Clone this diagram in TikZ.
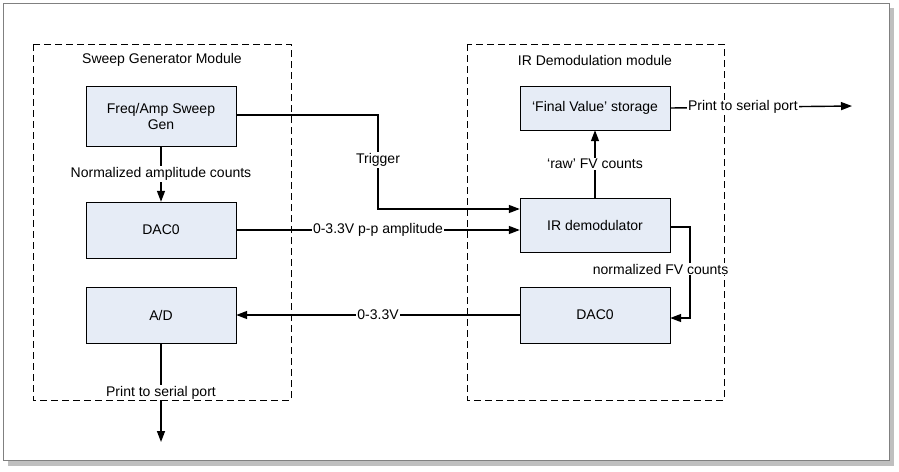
\documentclass[tikz,border=0pt]{standalone}
\usepackage{fontspec}
\setmainfont{Liberation Sans}
\usetikzlibrary{arrows.meta}
\definecolor{blockfill}{RGB}{230,236,246}
\begin{document}
\begin{tikzpicture}[x=1pt,y=-1pt,
        >={Triangle[length=11pt,width=8pt]},
        font=\fontsize{14}{16}\selectfont,
        block/.style={draw, fill=blockfill, minimum width=150pt,
            align=center, inner sep=2pt},
        module/.style={draw, dashed, dash pattern=on 7pt off 4pt},
        link/.style={->, line width=1.4pt},
        lbl/.style={fill=white, inner sep=1pt}
    ]
    %% frame
    \useasboundingbox (0,0) rectangle (899,471);
    \fill[black!25] (8,8) rectangle (894,466);
    \fill[white, draw=black!50] (3,3) rectangle (889,460);
    %% modules
    \draw[module] (33,44) rectangle (291,400);
    \draw[module] (467,44) rectangle (724,400);
    \node (sweepT) at (162,60) {Sweep Generator Module};
    \node (irT) at (595,60) {IR Demodulation module};
    %% blocks
    \node[block, minimum height=60pt] (gen) at (161,116) {Freq/Amp Sweep\\Gen};
    \node[block, minimum height=56pt] (dacL) at (161,230) {DAC0};
    \node[block, minimum height=56pt] (ad) at (161,315) {A/D};
    \node[block, minimum height=44pt] (fv) at (595,108) {`Final Value' storage};
    \node[block, minimum height=54pt] (demod) at (595,225) {IR demodulator};
    \node[block, minimum height=56pt] (dacR) at (595,315) {DAC0};
    \coordinate (outR) at (852,106);
    \coordinate (outD) at (161,442);
    %% connectors
    \draw[link] (gen) -- node[lbl] {Normalized amplitude counts} (dacL);
    \draw[link] (gen.east |- 0,115) -| (378,160) node[lbl] {Trigger}
        |- (demod.west |- 0,209);
    \draw[link] (dacL.east |- 0,230) -- node[lbl, pos=0.5] {0-3.3V p-p amplitude}
        (demod.west |- 0,230);
    \draw[link] (demod.north) -- node[lbl] {`raw' FV counts} (fv.south);
    \draw[link] (fv.east) -- (outR) node[lbl, pos=0.4] {Print to serial port};
    \draw[link] (demod.east |- 0,227) -| (690,269) node[lbl, left=-40pt] {normalized FV counts}
        |- (dacR.east |- 0,318);
    \draw[link] (dacR.west) -- node[lbl] {0-3.3V} (ad.east);
    \draw[link] (ad.south) -- (outD) node[lbl, pos=0.5] {Print to serial port};
\end{tikzpicture}
\end{document}
